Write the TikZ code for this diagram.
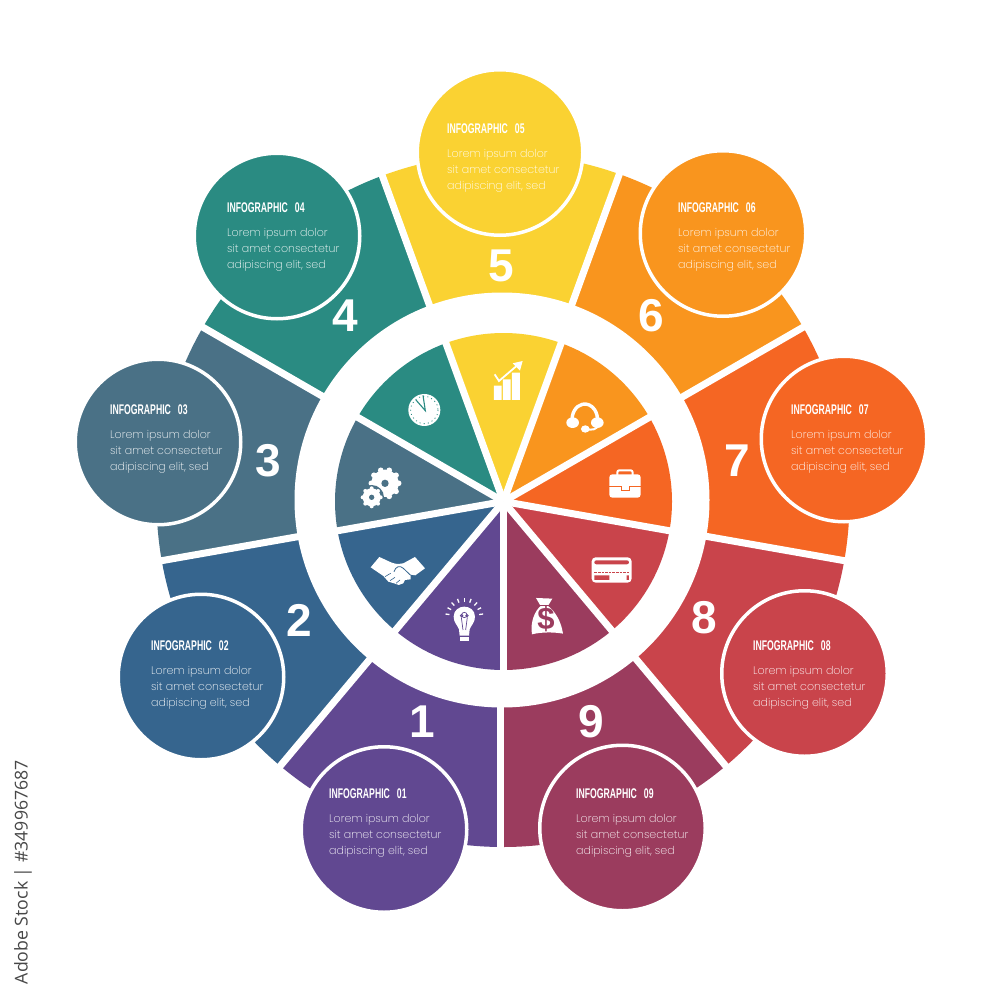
\documentclass[tikz,border=0pt]{standalone}
\usepackage{fontspec}
\setmainfont{Liberation Sans}
\newfontfamily\headfont[FakeStretch=0.62]{Liberation Sans Bold}
\newfontfamily\bodyfont{Poppins ExtraLight}
\newfontfamily\numfont{Liberation Sans Bold}
\newfontfamily\sidefont{Open Sans}
\definecolor{c1}{HTML}{614891}
\definecolor{c2}{HTML}{36658E}
\definecolor{c3}{HTML}{4A7186}
\definecolor{c4}{HTML}{2A8B82}
\definecolor{c5}{HTML}{FAD232}
\definecolor{c6}{HTML}{F9951E}
\definecolor{c7}{HTML}{F56623}
\definecolor{c8}{HTML}{C9444B}
\definecolor{c9}{HTML}{9B3C5E}
\tikzset{
  disc/.style={circle,draw=white,line width=3.5pt,minimum size=165.5pt,inner sep=0pt},
  headtext/.style={anchor=west,inner sep=0pt,text=white,font=\headfont\fontsize{14}{14}\selectfont},
  bodytext/.style={anchor=west,inner sep=0pt,text=white,align=left,font=\bodyfont\fontsize{11}{16}\selectfont},
  numtext/.style={inner sep=0pt,text=white,font=\numfont\fontsize{46}{46}\selectfont},
  icon/.style={shift={(320,320)},x=0.3333pt,y=-0.3333pt}
}
\begin{document}
\begin{tikzpicture}[x=1pt,y=-1pt]
\useasboundingbox (0,0) rectangle (1000,1000);
\fill[white] (0,0) rectangle (1000,1000);
% outer ring segments
\begin{scope}[shift={(503,500.5)}]
\foreach \k in {1,...,9}{
  \pgfmathsetmacro{\ta}{90+40*(\k-1)}
  \pgfmathsetmacro{\tb}{90+40*\k}
  \fill[c\k] (\ta:190) arc[start angle=\ta,end angle=\tb,radius=190] -- (\tb:346.5)
     arc[start angle=\tb,end angle=\ta,radius=346.5] -- cycle;
}
\end{scope}
% outer gaps: the top and bottom ones sit a little to the left
\foreach \t/\dx in {90/-3,130/0,170/0,210/0,250/-2.5,290/-2.5,330/0,370/0,410/0}{
  \begin{scope}[shift={(503+\dx,500.5)}]
    \draw[white,line width=7pt] (\t:180) -- (\t:356);
  \end{scope}
}
% white ring
\fill[white] (502,500) circle[radius=207.5];
% inner wedges
\begin{scope}[shift={(503.5,501.5)}]
\foreach \k in {1,...,9}{
  \pgfmathsetmacro{\ta}{90+40*(\k-1)}
  \pgfmathsetmacro{\tb}{90+40*\k}
  \fill[c\k] (0,0) -- (\ta:168.5) arc[start angle=\ta,end angle=\tb,radius=168.5] -- cycle;
}
\foreach \k in {1,...,9}{
  \pgfmathsetmacro{\ta}{90+40*(\k-1)}
  \draw[white,line width=7pt] (0,0) -- (\ta:175);
}
\end{scope}
% circles
\foreach \k/\cx/\cy in {1/384/829.5,2/201/677,3/158/442,4/277/236,5/500/152.5,6/723/233.5,7/844/439,8/804.5/673.5,9/622.5/828}{
  \node[disc,fill=c\k] (disc\k) at (\cx,\cy) {};
}
% titles, body text
\foreach \k/\tx/\ty in {1/329/794,2/151/646,3/110/410,4/227/208,5/447/129,6/678/208,7/791/410,8/753/646,9/576/794}{
  \node[headtext] (title\k) at (\tx,\ty) {INFOGRAPHIC\,\,\,0\k};
  \node[bodytext] (body\k) at (\tx,\ty+41.5) {Lorem ipsum dolor\\sit amet consectetur\\adipiscing elit, sed};
}
% numbers
\foreach \k/\nx/\ny in {1/422/722,2/299/620,3/268/461,4/345/316,5/501/266,6/651/316,7/737/461,8/704/618,9/591/722}{
  \node[numtext] (num\k) at (\nx,\ny) {\k};
}
% ---- icons (coordinates at 3x around 320,320)
% chart
\begin{scope}[icon]
\fill[white] (522,197) rectangle (545,240) (549,178) rectangle (572,240) (576,158) rectangle (600,240);
\draw[white,line width=1.8pt,line join=miter] (524,163) -- (537,183) -- (592,136);
\fill[white] (578,130) -- (608,123) -- (600,152) -- cycle;
\end{scope}
% headset
\begin{scope}[icon]
\draw[white,line width=3.4pt] (757,306) arc[start angle=170,end angle=370,x radius=38,y radius=46];
\fill[white] (758,308) ellipse[x radius=19,y radius=16] (832,308) ellipse[x radius=19,y radius=16];
\draw[white,line width=2pt] (835,315) .. controls (830,330) and (815,330) .. (800,328);
\fill[white] (796,327) ellipse[x radius=13,y radius=11];
\end{scope}
% briefcase
\begin{scope}[icon]
\draw[white,line width=2pt,rounded corners=2pt] (892,470) -- (892,451) -- (938,451) -- (938,470);
\fill[white,rounded corners=3pt] (868,463) rectangle (962,533);
\draw[c7,line width=0.9pt] (868,498) -- (903,498) -- (903,510) -- (927,510) -- (927,498) -- (962,498);
\end{scope}
% credit card
\begin{scope}[icon]
\fill[white,rounded corners=4pt] (815,712) rectangle (935,788);
\fill[c8,rounded corners=2pt] (823,721) -- (927,721) -- (927,733) -- (823,733) -- cycle;
\fill[c8] (823,766) rectangle (868,780) (920,766) rectangle (927,780);
\draw[c8,line width=1.5pt,dash pattern=on 2.6pt off 1pt] (823,758) -- (927,758);
\end{scope}
% money bag
\begin{scope}[icon]
\fill[white] (648,834) -- (697,836) -- (684,858) .. controls (705,873) and (724,905) .. (729,941)
  .. controls (700,936) and (665,936) .. (636,943) .. controls (630,905) and (645,873) .. (662,858) -- cycle;
\draw[c9,line width=0.8pt] (660,856) -- (686,856);
\node[inner sep=0pt,text=c9,font=\numfont\fontsize{31}{31}\selectfont] (dollar) at (678,897) {\$};
\end{scope}
% bulb
\begin{scope}[icon]
\fill[white] (419,948) -- (417,928) .. controls (412,915) and (401,908) .. (401,890)
  .. controls (401,870) and (418,860) .. (433,860) .. controls (448,860) and (465,870) .. (465,890)
  .. controls (465,908) and (454,915) .. (449,928) -- (447,948) -- cycle;
\fill[white] (421,950) rectangle (446,962);
\draw[c1,line width=0.7pt] (433,885) circle[radius=8] (425,887) circle[radius=4] (441,887) circle[radius=4];
\draw[c1,line width=0.7pt] (424,892) -- (429,930) (442,892) -- (437,930) (418,948) -- (448,948);
\foreach \a in {188,208,228,249,270,291,312,332,352}{
  \draw[white,line width=1.3pt] ([shift={(\a:45)}]433,890) -- ([shift={(\a:57)}]433,890);
}
\end{scope}
% handshake
\begin{scope}[icon]
\fill[white] (152,742) -- (178,711) -- (215,728) .. controls (232,734) and (240,732) .. (250,730)
  -- (285,711) -- (315,745) -- (286,766) -- (272,764) -- (272,778) -- (255,780) -- (250,790)
  -- (236,795) -- (222,790) -- (205,785) -- (190,768) -- cycle;
\draw[c2,line width=0.8pt] (222,755) .. controls (226,740) and (240,735) .. (250,745) -- (272,766);
\draw[c2,line width=0.6pt] (195,770) -- (212,760) (210,782) -- (225,772) (228,790) -- (240,780);
\end{scope}
% gears
\begin{scope}[icon]
\fill[white] (195,490) circle[radius=41];
\foreach \a in {0,36,...,324}{\fill[white] ([shift={(\a:41)}]195,490) circle[radius=8.5];}
\fill[c3] (195,490) circle[radius=11];
\fill[c3] (155,532) circle[radius=37];
\fill[white] (155,532) circle[radius=27];
\foreach \a in {0,45,...,315}{\fill[white] ([shift={(\a:27)}]155,532) circle[radius=6];}
\fill[c3] (155,532) circle[radius=8];
\end{scope}
% clock
\begin{scope}[icon]
\fill[white] (313,270) circle[radius=48];
\draw[c4,line width=0.8pt,dash pattern=on 1pt off 3.2pt] (313,270) circle[radius=41];
\draw[c4,line width=1.1pt] (288,240) -- (316,272) -- (309,226);
\end{scope}
% side label
\node[rotate=90,anchor=east,inner sep=0pt,text=black!72,font=\sidefont\fontsize{17.7}{17.7}\selectfont] (side) at (23,760) {Adobe Stock | \#349967687};
\end{tikzpicture}
\end{document}
